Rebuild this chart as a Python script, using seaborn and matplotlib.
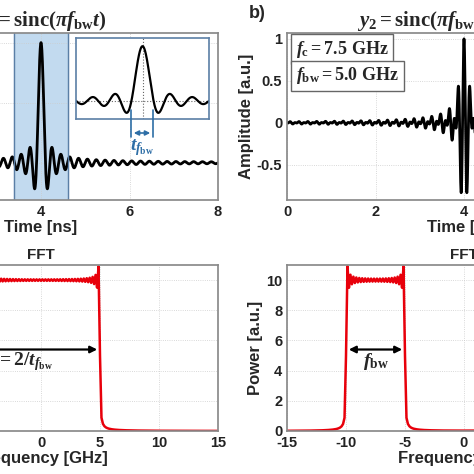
import numpy as np
import matplotlib
matplotlib.use("Agg")
import matplotlib.pyplot as plt
import seaborn as sns

sns.set_theme(style="white")
plt.rcParams['font.family'] = ['Liberation Sans', 'DejaVu Sans']
plt.rcParams['font.weight'] = 'bold'
plt.rcParams['axes.unicode_minus'] = False
plt.rcParams['mathtext.fontset'] = 'custom'
plt.rcParams['mathtext.it'] = 'Liberation Serif:italic:bold'
plt.rcParams['mathtext.rm'] = 'Liberation Serif:bold'
plt.rcParams['mathtext.bf'] = 'Liberation Serif:bold'

# chart parameters
fbw_left = 10.0    # GHz (spectrum -5..5)
fbw_right = 5.0    # GHz
fc_right = 7.5     # GHz
t_center = 4.0     # ns
t_start, t_stop, dt = 0.0, 8.0, 0.002
time_ticks = [0, 2, 4, 6, 8]
freq_ticks = [-15, -10, -5, 0, 5, 10, 15]
amp_ticks = [-0.5, 0, 0.5, 1]
pow_ticks = [0, 2, 4, 6, 8, 10]
shade_span = [3.4, 4.6]

t = np.arange(t_start, t_stop, dt)
y1 = np.sinc(fbw_left * (t - t_center))
y2 = np.sinc(fbw_right * (t - t_center)) * np.cos(2 * np.pi * fc_right * (t - t_center))
f = np.fft.fftshift(np.fft.fftfreq(len(t), dt))
P1 = 100 * np.abs(np.fft.fftshift(np.fft.fft(y1))) * dt
P2 = 100 * np.abs(np.fft.fftshift(np.fft.fft(y2))) * dt

W = H = 474
fig = plt.figure(figsize=(4.74, 4.74), dpi=100)
def ax_at(x0, y0, w, h):
    return fig.add_axes([x0 / W, 1 - (y0 + h) / H, w / W, h / H])

axA = ax_at(-136, 33, 354, 167)
axB = ax_at(287, 33, 354, 167)
axC = ax_at(-136, 265, 354, 166)
axD = ax_at(287, 265, 354, 166)

for ax in [axA, axB, axC, axD]:
    ax.grid(True, color='#cccccc', lw=0.6, ls=':')
    for s in ax.spines.values():
        s.set_color('#8a8a8a')
    ax.tick_params(labelsize=10.5, length=2, colors='#222222', direction='in')

sns.lineplot(x=t, y=y1, ax=axA, color='black', lw=2)
axA.axvspan(*shade_span, color='#bcd6ee', alpha=0.9, zorder=0)
axA.axvline(shade_span[0], color='#5b7fa6', lw=1)
axA.axvline(shade_span[1], color='#5b7fa6', lw=1)
axA.set_xlim(0, 8); axA.set_ylim(-0.31, 1.08)
axA.set_xticks(time_ticks); axA.set_yticks([0, 0.5, 1])
axA.set_xlabel('Time [ns]', fontsize=12, fontweight='bold', labelpad=1)
axA.set_title(r'$y_1 = \mathrm{sinc}(\pi f_{\mathrm{bw}}t)$', fontsize=15, pad=5)

ins = ax_at(76, 38, 133, 81)
sns.lineplot(x=t, y=y1, ax=ins, color='black', lw=1.6)
ins.set_xlim(*shade_span); ins.set_ylim(-0.33, 1.15)
ins.set_xticks([t_center]); ins.set_yticks([0])
ins.tick_params(labelbottom=False, labelleft=False, length=0)
ins.grid(True, color='#666666', ls=':', lw=0.8)
for s in ins.spines.values():
    s.set_color('#5b7fa6'); s.set_linewidth(1.2)
ins.set_facecolor('white')
for xx in [131, 153]:
    fig.add_artist(plt.Line2D([xx / W, xx / W], [1 - 110 / H, 1 - 137 / H], color='#2e6ea6', lw=1.2))
fig.add_artist(matplotlib.patches.FancyArrowPatch((131 / W, 1 - 133 / H), (153 / W, 1 - 133 / H),
               arrowstyle='<|-|>', mutation_scale=7, color='#2e6ea6', lw=1.2))
fig.text(142 / W, 1 - 148 / H, r'$t_{f_{\mathrm{bw}}}$', color='#2e6ea6', fontsize=14, ha='center', va='center')

sns.lineplot(x=t, y=y2, ax=axB, color='black', lw=2)
axB.set_xlim(0, 8); axB.set_ylim(-0.92, 1.07)
axB.set_xticks(time_ticks); axB.set_yticks(amp_ticks)
axB.set_yticklabels(['-0.5', '0', '0.5', '1'])
axB.set_xlabel('Time [ns]', fontsize=12, fontweight='bold', labelpad=1)
axB.set_ylabel('Amplitude [a.u.]', fontsize=12, fontweight='bold', labelpad=2)
axB.set_title(r'$y_2 = \mathrm{sinc}(\pi f_{\mathrm{bw}}t)\mathrm{cos}(2\pi f_{\mathrm{c}}t)$', fontsize=15, pad=5)
bb = dict(boxstyle='square,pad=0.25', fc='white', ec='#666666', lw=1)
fig.text(296 / W, 1 - 49 / H, r'$f_{\mathrm{c}} = 7.5\ \mathrm{GHz}$', fontsize=13, va='center', bbox=bb)
fig.text(296 / W, 1 - 76 / H, r'$f_{\mathrm{bw}} = 5.0\ \mathrm{GHz}$', fontsize=13, va='center', bbox=bb)
fig.text(249 / W, 1 - 13 / H, 'b)', fontsize=13, fontweight='bold', va='center')

for ax, P in [(axC, P1), (axD, P2)]:
    sns.lineplot(x=f, y=P, ax=ax, color='#e8000b', lw=1.8)
    ax.set_xlim(-15, 15); ax.set_ylim(0, 11)
    ax.set_xticks(freq_ticks); ax.set_yticks(pow_ticks)
    ax.set_xlabel('Frequency [GHz]', fontsize=12, fontweight='bold', labelpad=1)
    ax.set_title('FFT', fontsize=11, fontweight='bold', pad=4)
axD.set_ylabel('Power [a.u.]', fontsize=12, fontweight='bold', labelpad=2)

axC.annotate('', xy=(5, 5.4), xytext=(-5, 5.4),
             arrowprops=dict(arrowstyle='<|-|>', color='black', lw=1.6, mutation_scale=10))
axC.text(-2.4, 4.6, r'$f_{\mathrm{bw}} = 2/t_{f_{\mathrm{bw}}}$', fontsize=14, ha='center', va='center')
axD.annotate('', xy=(-5, 5.4), xytext=(-10, 5.4),
             arrowprops=dict(arrowstyle='<|-|>', color='black', lw=1.6, mutation_scale=10))
axD.text(-7.5, 4.6, r'$f_{\mathrm{bw}}$', fontsize=14, ha='center', va='center')

fig.savefig('out.png', dpi=100)
